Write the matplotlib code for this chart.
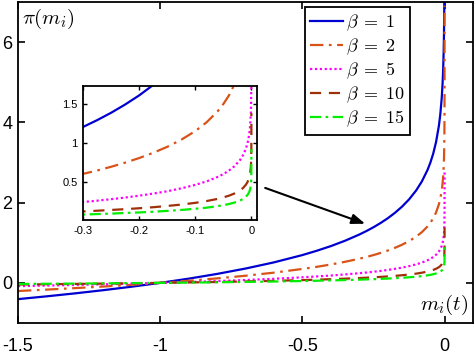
import numpy as np
import matplotlib.pyplot as plt

plt.rcParams['font.family'] = ['Liberation Sans', 'DejaVu Sans']
plt.rcParams['mathtext.fontset'] = 'cm'

# valores de m_i (mas densos cerca de 0)
m = [-1.5, -1.4, -1.3, -1.2, -1.1, -1.0, -0.9, -0.8, -0.7, -0.6, -0.5, -0.45, -0.4,
     -0.35, -0.3, -0.275, -0.25, -0.225, -0.2, -0.175, -0.15, -0.125, -0.1, -0.08,
     -0.06, -0.05, -0.04, -0.03, -0.02, -0.015, -0.01, -0.007, -0.005, -0.003,
     -0.002, -0.001, -5e-4, -2e-4, -1e-4, -1e-5, -1e-6]

pi_b1 = [-0.405, -0.336, -0.262, -0.182, -0.095, 0.0, 0.105, 0.223, 0.357, 0.511,
         0.693, 0.799, 0.916, 1.050, 1.204, 1.291, 1.386, 1.492, 1.609, 1.743, 1.897,
         2.079, 2.303, 2.526, 2.813, 2.996, 3.219, 3.507, 3.912, 4.200, 4.605, 4.962,
         5.298, 5.809, 6.215, 6.908, 7.601, 8.517, 9.210, 11.513, 13.816]
pi_b2 = [-0.203, -0.168, -0.131, -0.091, -0.048, 0.0, 0.053, 0.112, 0.178, 0.255,
         0.347, 0.399, 0.458, 0.525, 0.602, 0.645, 0.693, 0.746, 0.805, 0.872, 0.949,
         1.040, 1.151, 1.263, 1.406, 1.498, 1.609, 1.753, 1.956, 2.100, 2.303, 2.481,
         2.649, 2.905, 3.107, 3.454, 3.800, 4.259, 4.605, 5.756, 6.908]
pi_b5 = [-0.081, -0.067, -0.052, -0.036, -0.019, 0.0, 0.021, 0.045, 0.071, 0.102,
         0.139, 0.160, 0.183, 0.210, 0.241, 0.258, 0.277, 0.298, 0.322, 0.349, 0.379,
         0.416, 0.461, 0.505, 0.563, 0.599, 0.644, 0.701, 0.782, 0.840, 0.921, 0.992,
         1.060, 1.162, 1.243, 1.382, 1.520, 1.703, 1.842, 2.303, 2.763]
pi_b10 = [-0.041, -0.034, -0.026, -0.018, -0.010, 0.0, 0.011, 0.022, 0.036, 0.051,
          0.069, 0.080, 0.092, 0.105, 0.120, 0.129, 0.139, 0.149, 0.161, 0.174, 0.190,
          0.208, 0.230, 0.253, 0.281, 0.300, 0.322, 0.351, 0.391, 0.420, 0.461, 0.496,
          0.530, 0.581, 0.622, 0.691, 0.760, 0.852, 0.921, 1.151, 1.382]
pi_b15 = [-0.027, -0.022, -0.018, -0.012, -0.006, 0.0, 0.007, 0.015, 0.024, 0.034,
          0.046, 0.053, 0.061, 0.070, 0.080, 0.086, 0.092, 0.100, 0.107, 0.116, 0.127,
          0.139, 0.154, 0.168, 0.188, 0.200, 0.215, 0.234, 0.261, 0.280, 0.307, 0.331,
          0.353, 0.387, 0.414, 0.461, 0.507, 0.568, 0.614, 0.768, 0.921]

etiquetas = [r'$\beta\;=\;1$', r'$\beta\;=\;2$', r'$\beta\;=\;5$', r'$\beta\;=\;10$', r'$\beta\;=\;15$']
series = [pi_b1, pi_b2, pi_b5, pi_b10, pi_b15]
colores = ['#0000D0', '#D95319', '#FF00FF', '#A0300A', '#00EE00']
estilos = ['-', (0, (6, 2.5, 1.2, 2.5)), (0, (1, 1.2)), (0, (5, 3.5)), (0, (5, 2, 1.2, 2))]

fig = plt.figure(figsize=(4.74, 3.53), dpi=100)
ax = fig.add_axes([18/474, 1 - 323/353, 455/474, 321/353])

for y, lab, c, ls in zip(series, etiquetas, colores, estilos):
    ax.plot(m, y, color=c, linestyle=ls, lw=1.6, label=lab)

ax.set_xlim(-1.5, 0.1)
ax.set_ylim(-1, 7)
ax.set_xticks([-1.5, -1, -0.5, 0])
ax.set_xticklabels(['-1.5', '-1', '-0.5', '0'])
ax.set_yticks([0, 2, 4, 6])
ax.tick_params(direction='in', top=True, right=True, length=5, width=1.2, labelsize=13)
ax.tick_params(axis='x', pad=11)
ax.tick_params(axis='y', pad=4)
for s in ax.spines.values():
    s.set_linewidth(1.3)

ax.text(0.008, 0.985, r'$\pi(m_i)$', transform=ax.transAxes, ha='left', va='top', fontsize=15)
ax.text(0.99, 0.02, r'$m_i(t)$', transform=ax.transAxes, ha='right', va='bottom', fontsize=15)

leg = ax.legend(loc='upper left', bbox_to_anchor=(287/455, 1 - 5/321), fontsize=13,
                handlelength=1.8, handletextpad=0.15, borderpad=0.3, labelspacing=0.2,
                borderaxespad=0, fancybox=False, framealpha=1, edgecolor='black')
leg.get_frame().set_linewidth(1.3)

ax.annotate('', xy=(-0.27, 1.45), xytext=(-0.64, 2.39),
            arrowprops=dict(arrowstyle='-|>,head_length=0.8,head_width=0.3', color='black', lw=1.5))

# recuadro con zoom cerca de 0
axin = fig.add_axes([83/474, 1 - 220/353, 174/474, 134/353])
for y, c, ls in zip(series, colores, estilos):
    axin.plot(m, y, color=c, linestyle=ls, lw=1.6)
axin.set_xlim(-0.3, 0.01)
axin.set_ylim(0.01, 1.73)
axin.set_xticks([-0.3, -0.2, -0.1, 0])
axin.set_xticklabels(['-0.3', '-0.2', '-0.1', '0'])
axin.set_yticks([0.5, 1, 1.5])
axin.set_yticklabels(['0.5', '1', '1.5'])
axin.tick_params(direction='in', top=True, right=True, length=3, width=1, labelsize=8, pad=4)
for s in axin.spines.values():
    s.set_linewidth(1.3)

fig.savefig('out.png', dpi=100)
